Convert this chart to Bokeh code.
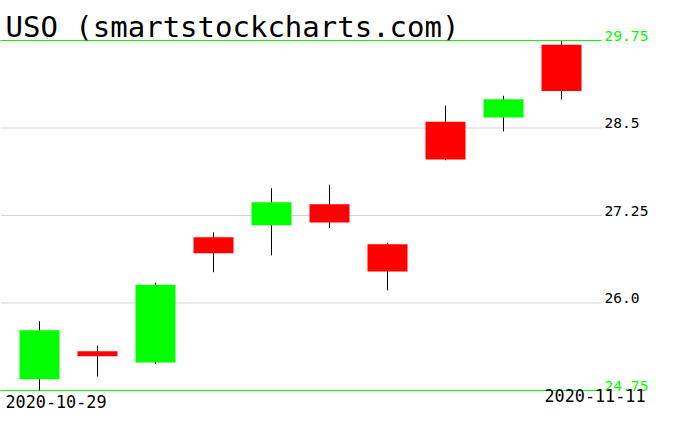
from bokeh.plotting import figure
from bokeh.models import ColumnDataSource, Range1d
from bokeh.core.properties import value
from bokeh.embed import file_html
from bokeh.resources import INLINE

# ---- data ----
dates = ["2020-10-29", "2020-10-30", "2020-11-02", "2020-11-03", "2020-11-04",
         "2020-11-05", "2020-11-06", "2020-11-09", "2020-11-10", "2020-11-11"]
opens = [24.91, 25.31, 25.15, 26.94, 27.11, 27.41, 26.84, 28.59, 28.65, 29.69]
highs = [25.74, 25.39, 26.29, 27.01, 27.64, 27.69, 26.86, 28.82, 28.96, 29.74]
lows = [24.75, 24.95, 25.13, 26.44, 26.68, 27.07, 26.18, 28.04, 28.45, 28.91]
closes = [25.61, 25.24, 26.26, 26.71, 27.44, 27.15, 26.45, 28.05, 28.91, 29.03]
ytick_values = [24.75, 26.0, 27.25, 28.5, 29.75]
ytick_labels = ["24.75", "26.0", "27.25", "28.5", "29.75"]
title_text = "USO (smartstockcharts.com)"

GREEN = "#00ff00"
RED = "#ff0000"
GRAY = "#d3d3d3"

W, H = 670, 425
PX_PER_DAY = 58.0
X0_PX = 39.0          # pixel of first candle center
PX_PER_UNIT = 70.0
TOP_PX = 40.0         # pixel of top tick value

idx = list(range(len(dates)))
x_start = -X0_PX / PX_PER_DAY
x_end = (W - X0_PX) / PX_PER_DAY
y_end = ytick_values[-1] + TOP_PX / PX_PER_UNIT
y_start = y_end - H / PX_PER_UNIT

p = figure(width=W, height=H, output_backend="svg", toolbar_location=None,
           x_range=Range1d(x_start, x_end), y_range=Range1d(y_start, y_end),
           min_border=0, min_border_left=0, min_border_right=0,
           min_border_top=0, min_border_bottom=0)
p.axis.visible = False
p.xgrid.visible = False
p.ygrid.visible = False
p.outline_line_color = None
p.background_fill_color = "white"
p.border_fill_color = "white"

# gridlines
grid_end = (601 - X0_PX) / PX_PER_DAY
n = len(ytick_values)
gcolors = [GREEN if (i == 0 or i == n - 1) else GRAY for i in range(n)]
lcolors = [GREEN if (i == 0 or i == n - 1) else "black" for i in range(n)]
gsrc = ColumnDataSource(dict(
    x0=[x_start] * n, x1=[grid_end] * n,
    y=ytick_values, label=ytick_labels, color=gcolors, lcolor=lcolors))
p.segment(x0="x0", y0="y", x1="x1", y1="y", color="color", line_width=1, source=gsrc)
p.text(x="x1", y="y", text="label", text_color="lcolor", source=gsrc,
       text_font=value("DejaVu Sans Mono"), text_font_size="14.6px",
       text_align="left", text_baseline="alphabetic", x_offset=3, y_offset=-5)

# candles
colors = [GREEN if c >= o else RED for o, c in zip(opens, closes)]
tops = [max(o, c) for o, c in zip(opens, closes)]
bots = [min(o, c) for o, c in zip(opens, closes)]
csrc = ColumnDataSource(dict(x=idx, high=highs, low=lows, top=tops, bottom=bots, color=colors))
p.segment(x0="x", y0="low", x1="x", y1="high", color="black", line_width=1, source=csrc)
p.vbar(x="x", top="top", bottom="bottom", width=40 / PX_PER_DAY, fill_color="color",
       line_color=None, source=csrc)

# date labels
p.text(x=[idx[0]], y=[ytick_values[0]], text=[dates[0]], text_color="black",
       text_font=value("DejaVu Sans Mono"), text_font_size="16.8px",
       text_align="left", text_baseline="alphabetic", x_offset=-34, y_offset=11)
p.text(x=[idx[-1]], y=[ytick_values[0]], text=[dates[-1]], text_color="black",
       text_font=value("DejaVu Sans Mono"), text_font_size="16.8px",
       text_align="right", text_baseline="alphabetic", x_offset=84, y_offset=5)

# title
p.text(x=[x_start], y=[ytick_values[-1]], text=[title_text], text_color="black",
       text_font=value("DejaVu Sans Mono"), text_font_size="29px",
       text_align="left", text_baseline="alphabetic", x_offset=5, y_offset=-14)

open("out.html", "w").write(file_html(p, INLINE))
